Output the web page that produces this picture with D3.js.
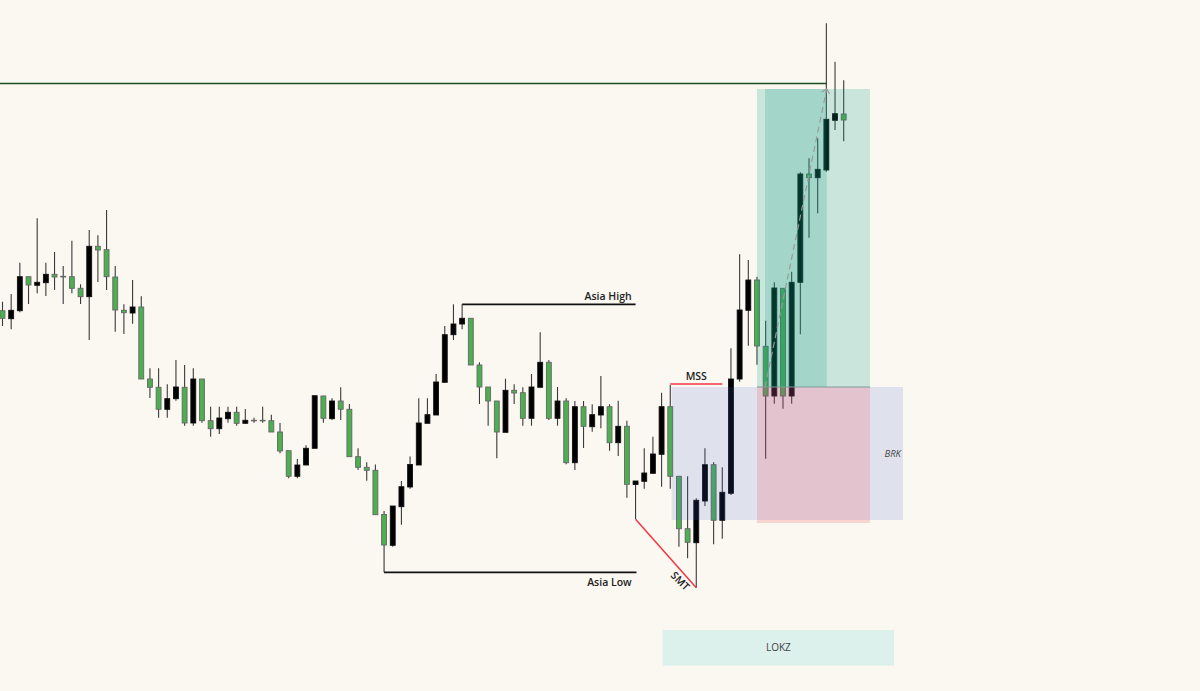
<!DOCTYPE html>
<html>
<head>
<meta charset="utf-8">
<script src="https://cdn.jsdelivr.net/npm/d3@7"></script>
<style>
	html, body { margin: 0; padding: 0; background: #fbf8f2; }
	svg { display: block; }
	text { font-family: "Open Sans", sans-serif; }
</style>
</head>
<body>
<svg id="chart" width="1200" height="691"></svg>
<script>
// candles
const opens = [380.3,372.3,380.3,414.3,405.7,408.3,416.7,414.7,414.3,402.7,394.3,444.7,441.3,414,380.7,378,384,312,303.7,281.7,292.3,303.7,268,312,270.3,262.3,272.3,278.7,267.7,270.7,270.7,270.3,259,240.3,214.7,226,242.7,295,272.3,290,281.7,234.3,223.7,220.7,176.5,145.7,184.3,204,226,267.7,276,308.7,356.3,367,372.7,326,304,290,258.7,300.7,298.3,272.7,303.7,328.7,272.7,290,228.3,284.3,264.3,276,284.3,248.3,264.7,206.5,209.7,217.7,236.7,284.3,214.7,162.3,148.3,190,226.3,170.7,197.7,312,380.7,411,344.7,295,402.7,295,408.7,517,513.3,521,570.7,577];
const highs = [389.3,397,428.3,414.3,472.7,428.3,439,425,450.3,406.7,461,455.7,481,425,386.7,411,394.7,322.7,322.7,306.7,331,326,322.7,312,284.3,284.3,284.3,284.3,282,273.3,284.3,276.3,268,240.3,232,245.7,295.3,295.3,292.7,303.7,287,242.7,228.7,226.5,180,185,210,234.5,292.7,292.7,317,365,386.7,386.7,372.7,328.7,304,290,312.3,306.7,303.7,317,358.7,331,304,292.7,290,290,286.7,315,286.7,290.3,270.3,210,242.7,254.3,298.3,306,214.7,214.7,192.7,242.7,228.7,223.7,342.7,436.7,431,414.3,370.3,408.7,402.7,419.3,518.7,532.7,552.7,667.7,629.3,610.7];
const lows = [365,361.7,378.7,387,397.7,395,401,387,397.7,387,351,409,401,359.3,357,367.3,312,293,273.3,273.3,290.3,265.3,265.3,268.3,254.3,257,268.3,265.3,267.7,268.3,268.3,259,237.7,212.7,212.7,226,242.7,268.3,271,271,234.3,221,210.3,176.3,118.7,144.3,166.3,202.3,226,267.7,276,308.7,351,361.7,326,287,265.3,232.7,258.7,287,265.3,265.3,303.7,271,265.3,226.7,221,243,259.3,262.7,240.3,235,193.3,171.7,202.3,217.7,204.3,202.3,144.3,132.7,103.3,185,146.7,152.3,196,309.3,345.3,326.3,232.3,287.3,282.3,287.3,356.7,453.3,477.7,519.3,561,549.7];
const closes = [372.7,380.7,414.3,406,408.7,416.7,414,414,402.7,394.3,444.7,441,414.3,381,378.3,384,312,303.7,281.7,292.3,304,268,312,270.3,262.3,273,278.7,267.7,270.7,270.3,270.3,259,240,214.7,226,242.7,295.3,272.7,290,281.7,234.3,223.7,220.7,176.3,146,185,204.3,226.5,268,276.3,309,356.3,367,372.7,326,304,290,259,300.7,298,272.7,304,328.7,272.7,290,228.3,284.3,264.7,276.3,284.3,248.3,264.7,206.7,210,218,237,284.3,214.7,162.3,148.7,190.7,226.3,170.7,198.7,312,381,411,345,295,403,295,408.7,517,513.3,521.7,571.7,577.3,571];

// price / candle-number positions of the drawings
const topLevel = 607.5;
const asiaHigh = 386.7, asiaLow = 118.7;
const mssLevel = 307;
const smtFrom = [73, 171.7], smtTo = [80, 103.3];
const brkBox = [77.15, 103.84, 304, 171];
const entry = 304, target = 602, stop = 168;
const tradeBars = [87, 100.03];
const holdBars = [87.93, 95.04];
const lokzBox = [76.13, 102.8, 61, 25.3];

const svg = d3.select("#chart");
const width = +svg.attr("width"), height = +svg.attr("height");

// no axes on this chart, scales only
const scX = d3.scaleLinear().domain([0, opens.length - 1]).range([2.5, 843.7]);
const scY = d3.scaleLinear().domain([0, height]).range([height, 0]);
const candleW = 4.9;

svg.append("rect").attr("width", width).attr("height", height).attr("fill", "#fbf8f2");

const candles = d3.range(opens.length).map(i => ({i: i, o: opens[i], h: highs[i], l: lows[i], c: closes[i]}));

// wicks
svg.append("g").selectAll("line")
	.data(candles)
	.enter()
	.append("line")
	.attr("x1", d => scX(d.i))
	.attr("x2", d => scX(d.i))
	.attr("y1", d => scY(d.h))
	.attr("y2", d => scY(d.l))
	.attr("stroke", "#3a3a3a")
	.attr("stroke-width", 1.1);

// bodies, black goes up and green goes down on this chart
svg.append("g").selectAll("rect")
	.data(candles)
	.enter()
	.append("rect")
	.attr("x", d => scX(d.i) - candleW / 2)
	.attr("y", d => scY(Math.max(d.o, d.c)))
	.attr("width", candleW)
	.attr("height", d => Math.max(Math.abs(d.o - d.c), 0.6))
	.attr("fill", d => d.c >= d.o ? "#000" : "#4caf50")
	.attr("stroke", d => d.c >= d.o ? "#111" : "#666")
	.attr("stroke-width", 0.9);

function box(x0, x1, p0, p1, fill) {
	return svg.append("rect")
		.attr("x", scX(x0))
		.attr("y", scY(Math.max(p0, p1)))
		.attr("width", scX(x1) - scX(x0))
		.attr("height", Math.abs(scY(p0) - scY(p1)))
		.attr("fill", fill);
}
function seg(x0, p0, x1, p1, color, w) {
	return svg.append("line")
		.attr("x1", scX(x0)).attr("y1", scY(p0))
		.attr("x2", scX(x1)).attr("y2", scY(p1))
		.attr("stroke", color)
		.attr("stroke-width", w);
}
function label(x, p, txt, anchor, size, color) {
	return svg.append("text")
		.attr("x", scX(x)).attr("y", scY(p))
		.attr("text-anchor", anchor)
		.attr("font-size", size)
		.attr("fill", color)
		.text(txt);
}

// zones on top of the candles
box(brkBox[0], brkBox[1], brkBox[2], brkBox[3], "rgba(66,98,205,.15)");
box(tradeBars[0], tradeBars[1], entry, target, "rgba(8,153,129,.2)");
box(holdBars[0], holdBars[1], entry, target, "rgba(8,153,129,.2)");
box(tradeBars[0], tradeBars[1], entry, stop, "rgba(242,54,69,.18)");
seg(tradeBars[0], entry, tradeBars[1], entry, "#7f9a98", 1);

// path of the trade
seg(holdBars[0], entry, holdBars[1], target, "#999", 1.2).attr("stroke-dasharray", "6 4");
const tip = [scX(holdBars[1]), scY(target)];
svg.append("path")
	.attr("d", d3.line()([[tip[0] - 5, tip[1] + 3], tip, [tip[0] + 3, tip[1] + 5]]))
	.attr("fill", "none")
	.attr("stroke", "#999")
	.attr("stroke-width", 1.2);

// levels
seg(scX.invert(0), topLevel, holdBars[1], topLevel, "#1b4d20", 1.7);
seg(53, asiaHigh, 73, asiaHigh, "#111", 1.8);
seg(44, asiaLow, 73.1, asiaLow, "#111", 1.8);
seg(77, mssLevel, 83, mssLevel, "#f23645", 1.5);
seg(smtFrom[0], smtFrom[1], smtTo[0], smtTo[1], "#f23645", 1.5);

// texts
label(72.55, 391.5, "Asia High", "end", 10.5, "#222").attr("font-weight", 600);
label(72.55, 105.5, "Asia Low", "end", 10.5, "#222").attr("font-weight", 600);
label(80, 311.5, "MSS", "middle", 10.5, "#222").attr("font-weight", 600);
label(103.6, 234.5, "BRK", "end", 9.5, "#444").attr("font-style", "italic");
svg.append("text")
	.attr("transform", `translate(${scX(78.15)},${scY(110)}) rotate(45)`)
	.attr("text-anchor", "middle")
	.attr("dy", "0.35em")
	.attr("font-size", 10.5)
	.attr("font-weight", 600)
	.attr("fill", "#222")
	.text("SMT");

// session box
box(lokzBox[0], lokzBox[1], lokzBox[2], lokzBox[3], "#dcf0ec");
label((lokzBox[0] + lokzBox[1]) / 2, 40.5, "LOKZ", "middle", 10, "#444");
</script>
</body>
</html>
